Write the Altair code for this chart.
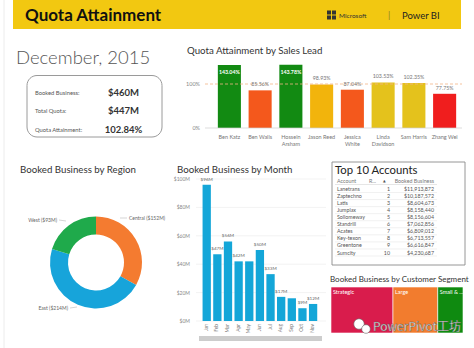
import altair as alt
import pandas as pd

FONT = "Lato"
CJK = "Noto Sans CJK SC"

# ---------------- data ----------------
sales_leads = ["Ben Katz", "Ben Walls", "Hossein Arsham", "Jason Reed",
               "Jessica White", "Linda Davidson", "Sam Harris", "Zhang Wei"]
sales_lead_axis = ["Ben Katz", "Ben Walls", "Hossein\nArsham", "Jason Reed",
                   "Jessica\nWhite", "Linda\nDavidson", "Sam Harris", "Zhang Wei"]
attainment_pct = [143.04, 85.56, 143.78, 98.93, 87.04, 103.53, 102.35, 77.75]

regions = ["Central", "East", "West"]
region_booked_m = [152, 214, 93]

months = ["Jan", "Feb", "Mar", "Apr", "May", "Jun", "Jul", "Aug", "Sep", "Oct", "Nov"]
month_booked_m = [96, 47, 56, 42, 42, 50, 33, 17, 16, 9, 12]
month_labels = ["$96M", "$47M", "$56M", "$42M", "", "$50M", "$33M", "$17M", "", "$9M", "$12M"]
month_ticks = [0, 20, 40, 60, 80, 100]

accounts = ["Lanetrans", "Zaptechno", "Latis", "Jumplax", "Sollomeway",
            "Standrill", "Acates", "Key-texon", "Greentone", "Sumcity"]
account_rank = [1, 2, 3, 4, 5, 6, 7, 8, 9, 10]
account_booked = [11913872, 10187572, 8604673, 8158440, 8156604,
                  7062856, 6809012, 6713557, 6616847, 4230687]

segments = ["Strategic", "Large", "Small & Medium"]
segment_booked_m = [216, 156, 88]

kpi_labels = ["Booked Business:", "Total Quota:", "Quota Attainment:"]
kpi_values = ["$460M", "$447M", "102.84%"]

# ---------------- helpers (decoration) ----------------
one = pd.DataFrame({"k": [0]})


def txt(s, x, y, size, color="#333333", weight="normal", align="left",
        baseline="middle", font=FONT, **kw):
    return alt.Chart(one).mark_text(
        text=s, fontSize=size, color=color, fontWeight=weight, align=align,
        baseline=baseline, font=font, **kw
    ).encode(x=alt.value(x), y=alt.value(y))


def rect(x, y, x2, y2, **kw):
    return alt.Chart(one).mark_rect(**kw).encode(
        x=alt.value(x), x2=alt.value(x2), y=alt.value(y), y2=alt.value(y2))


def hline(x, x2, y, y2=None, **kw):
    return alt.Chart(one).mark_rule(**kw).encode(
        x=alt.value(x), x2=alt.value(x2), y=alt.value(y),
        y2=alt.value(y if y2 is None else y2))


layers = []

# ---------------- header ----------------
layers += [
    hline(4, 4, 0, 348, color="#ececec", strokeWidth=1),
    rect(13, 0, 461, 29, fill="#f2c811"),
    txt("Quota Attainment", 25, 15.5, 17, color="#111111", weight="bold"),
    rect(327, 10.5, 331, 14.5, fill="#333333"),
    rect(332, 10.5, 336, 14.5, fill="#333333"),
    rect(327, 15.5, 331, 19.5, fill="#333333"),
    rect(332, 15.5, 336, 19.5, fill="#333333"),
    txt("Microsoft", 339, 15.5, 6.5, color="#333333"),
    txt("|", 388, 15, 9, color="#8a7a30"),
    txt("Power BI", 402, 15.5, 9.5, color="#222222"),
    txt("December, 2015", 16, 58, 18.5, color="#555555", weight=300),
    rect(27, 75.5, 162, 137, fill="white", stroke="#9a9a9a", strokeWidth=1, cornerRadius=10),
]

# KPI text rows
kpi_df = pd.DataFrame({"Label": kpi_labels, "Value": kpi_values, "row": [0, 1, 2]})
kpi_ys = alt.Scale(type="point", domain=[0, 1, 2], range=[93, 129.5], padding=0)
layers += [
    alt.Chart(kpi_df).mark_text(align="left", fontSize=5.8, color="#555555", font=FONT).encode(
        y=alt.Y("row:O", scale=kpi_ys, axis=None), x=alt.value(35), text="Label:N"),
    alt.Chart(kpi_df).mark_text(align="center", fontSize=9.5, color="#333333", font=FONT,
                                fontWeight="bold").encode(
        y=alt.Y("row:O", scale=kpi_ys, axis=None), x=alt.value(123.5), text="Value:N"),
]

# ---------------- Quota attainment by sales lead ----------------
q_df = pd.DataFrame({"Lead": sales_leads, "Axis": sales_lead_axis, "Attainment": attainment_pct})
q_df["Label"] = [f"{v:.2f}%" for v in attainment_pct]


def q_x():
    return alt.X("Lead:N", axis=None, sort=sales_leads,
                 scale=alt.Scale(domain=sales_leads, range=[214, 460],
                                 paddingInner=0.25, paddingOuter=0.125))


def q_y(field="Attainment:Q"):
    return alt.Y(field, axis=None,
                 scale=alt.Scale(domain=[0, 100], range=[128, 84], nice=False, zero=True))


q_color = alt.Color("Attainment:Q", legend=None, scale=alt.Scale(
    type="threshold", domain=[80, 90, 100, 110],
    range=["#f01e1e", "#f4581c", "#f2b40c", "#e4c21c", "#128a12"]))
q_ref = pd.DataFrame({"v": [0, 100], "t": ["0%", "100%"]})
layers += [
    txt("Quota Attainment by Sales Lead", 187, 51, 9.7, color="#333333"),
    alt.Chart(q_df).mark_bar().encode(x=q_x(), y=q_y(), color=q_color),
    alt.Chart(q_ref).transform_filter("datum.v == 0").mark_rule(
        color="#cfcfcf", strokeWidth=0.7).encode(
        y=q_y("v:Q"), x=alt.value(205), x2=alt.value(462)),
    alt.Chart(q_ref).transform_filter("datum.v == 100").mark_rule(
        color="#f3b487", strokeWidth=0.8, strokeDash=[3, 2]).encode(
        y=q_y("v:Q"), x=alt.value(205), x2=alt.value(462)),
    alt.Chart(q_ref).mark_text(align="right", fontSize=5.5, color="#888888", font=FONT).encode(
        y=q_y("v:Q"), x=alt.value(200), text="t:N"),
    alt.Chart(q_df).transform_filter("datum.Attainment >= 110").mark_text(
        dy=7, fontSize=5.3, color="white", fontWeight="bold", font=FONT).encode(
        x=q_x(), y=q_y(), text="Label:N"),
    alt.Chart(q_df).transform_filter("datum.Attainment < 110").mark_text(
        dy=-6, fontSize=5.3, color="#777777", font=FONT).encode(
        x=q_x(), y=q_y(), text="Label:N"),
    alt.Chart(q_df).mark_text(lineBreak="\n", baseline="top", fontSize=5.5, lineHeight=7,
                              color="#777777", font=FONT).encode(
        x=q_x(), y=alt.value(134.5), text="Axis:N"),
]

# ---------------- Booked business by region (donut) ----------------
r_df = pd.DataFrame({"Region": regions, "Booked": region_booked_m, "ord": [0, 1, 2]})
region_label = [f"{r} (${v}M)" for r, v in zip(regions, region_booked_m)]
layers += [
    txt("Booked Business by Region", 20, 170, 9.7, color="#333333"),
    alt.Chart(r_df).mark_arc(outerRadius=46, innerRadius=28).encode(
        theta=alt.Theta("Booked:Q", stack=True),
        color=alt.Color("Region:N", legend=None, scale=alt.Scale(
            domain=regions, range=["#f47b30", "#17a4da", "#1faa4b"])),
        order=alt.Order("ord:Q"),
        x=alt.value(96), y=alt.value(262.5)),
    txt(region_label[0], 129, 218, 5, color="#666666"),
    hline(120, 127, 218, color="#bbbbbb", strokeWidth=0.6),
    txt(region_label[2], 57, 220, 5, color="#666666", align="right"),
    hline(59, 66, 220, 221, color="#bbbbbb", strokeWidth=0.6),
    txt(region_label[1], 68, 308, 5, color="#666666", align="right"),
    hline(70, 77, 308, 307, color="#bbbbbb", strokeWidth=0.6),
]

# ---------------- Booked business by month ----------------
m_df = pd.DataFrame({"Month": months, "Booked": month_booked_m, "Label": month_labels})
t_df = pd.DataFrame({"v": month_ticks, "t": [f"${v}M" for v in month_ticks]})


def m_x():
    return alt.X("Month:N", axis=None, sort=months,
                 scale=alt.Scale(domain=months, range=[201.4, 318.4],
                                 paddingInner=0.22, paddingOuter=0.11))


def m_y(field="Booked:Q"):
    return alt.Y(field, axis=None,
                 scale=alt.Scale(domain=[0, 100], range=[321, 179], nice=False, zero=True))


layers += [
    txt("Booked Business by Month", 177, 170, 9.7, color="#333333"),
    alt.Chart(t_df).mark_rule(color="#eeeeee", strokeWidth=0.7).encode(
        y=m_y("v:Q"), x=alt.value(196), x2=alt.value(326)),
    alt.Chart(t_df).mark_text(align="right", fontSize=5, color="#888888", font=FONT).encode(
        y=m_y("v:Q"), x=alt.value(190), text="t:N"),
    alt.Chart(m_df).mark_bar(color="#14a6d8").encode(x=m_x(), y=m_y()),
    alt.Chart(m_df).mark_text(dy=-5, fontSize=4.6, color="#666666", font=FONT).encode(
        x=m_x(), y=m_y(), text="Label:N"),
    alt.Chart(m_df).mark_text(angle=270, align="right", baseline="middle", fontSize=4.8,
                              color="#777777", font=FONT).encode(
        x=m_x(), y=alt.value(324), text="Month:N"),
    rect(199, 336, 322, 341, fill="#cdcdcd"),
]

# ---------------- Top 10 accounts ----------------
a_df = pd.DataFrame({"Account": accounts, "Rank": account_rank, "Booked": account_booked})


def a_y():
    return alt.Y("Rank:O", axis=None,
                 scale=alt.Scale(type="point", domain=account_rank, range=[189, 252.5], padding=0))


layers += [
    rect(332, 162, 465, 265, fill="white", stroke="#8a8a8a", strokeWidth=0.9),
    txt("Top 10 Accounts", 335, 171, 11.3, color="#222222"),
    txt("Account", 337, 181, 5.3, color="#777777"),
    txt("R...", 369, 181, 5.3, color="#777777"),
    txt("▲", 383, 180.5, 3.5, color="#555555", font="DejaVu Sans"),
    txt("Booked Business", 434, 181, 5.3, color="#777777", align="right"),
    hline(335, 437, 184.5, color="#d5d5d5", strokeWidth=0.6),
    alt.Chart(a_df).mark_rule(color="#e3e3e3", strokeWidth=0.5, yOffset=3.5).encode(
        y=a_y(), x=alt.value(335), x2=alt.value(437)),
    alt.Chart(a_df).mark_text(align="left", fontSize=5.3, color="#555555", font=FONT).encode(
        y=a_y(), x=alt.value(337), text="Account:N"),
    alt.Chart(a_df).mark_text(align="right", fontSize=5.3, color="#555555", font=FONT).encode(
        y=a_y(), x=alt.value(390), text="Rank:O"),
    alt.Chart(a_df).mark_text(align="right", fontSize=5.3, color="#555555", font=FONT).encode(
        y=a_y(), x=alt.value(434), text=alt.Text("Booked:Q", format="$,.0f")),
]

# ---------------- Booked business by customer segment ----------------
s_df = pd.DataFrame({"Segment": segments, "Booked": segment_booked_m, "ord": [0, 1, 2]})


def s_chart():
    return alt.Chart(s_df).transform_window(
        x1="sum(Booked)", sort=[alt.SortField("ord", order="ascending")],
        frame=[None, 0]
    ).transform_calculate(x0="datum.x1 - datum.Booked")


def s_x(field="x0:Q"):
    return alt.X(field, axis=None, scale=alt.Scale(domain=[0, sum(segment_booked_m)],
                                                  range=[331, 463], nice=False))


layers += [
    txt("Booked Business by Customer Segment", 330, 280, 8, color="#333333"),
    s_chart().mark_rect(stroke="white", strokeWidth=0.6).encode(
        x=s_x(), x2="x1:Q",
        y=alt.value(287), y2=alt.value(333),
        color=alt.Color("Segment:N", legend=None, scale=alt.Scale(
            domain=segments, range=["#d91c4c", "#f27c2e", "#0f8a10"]))),
    s_chart().mark_text(align="left", dx=2, fontSize=5.5, color="white", font=FONT,
                        limit=24).encode(
        x=s_x(), y=alt.value(291.5), text="Segment:N"),
]

# ---------------- watermark ----------------
layers += [
    alt.Chart(one).mark_point(shape="circle", filled=True, fill="white", stroke="#666666",
                              strokeWidth=0.6, size=110, opacity=1).encode(
        x=alt.value(359), y=alt.value(324)),
    alt.Chart(one).mark_point(shape="circle", filled=True, fill="white", stroke="#666666",
                              strokeWidth=0.6, size=75, opacity=1).encode(
        x=alt.value(366), y=alt.value(329)),
    txt("PowerPivot工坊", 373, 327, 12, color="white", font=CJK,
        stroke="#555555", strokeWidth=0.4),
]

chart = alt.layer(*layers).resolve_scale(
    x="independent", y="independent", color="independent"
).properties(
    width=474, height=348,
    autosize=alt.AutoSizeParams(type="none"),
    padding=0,
    background="white",
).configure_view(stroke=None)

chart.save("out.html", embed_options={"renderer": "svg", "actions": False})
